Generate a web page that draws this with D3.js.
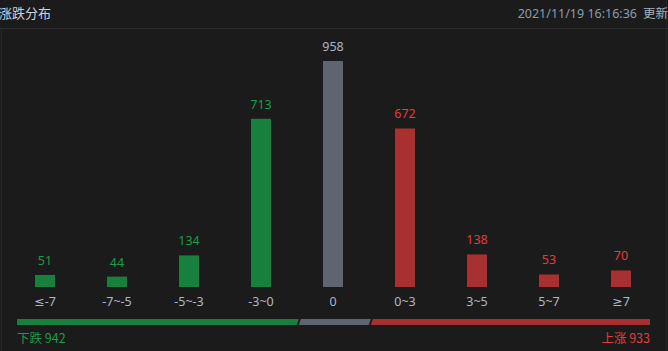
<!DOCTYPE html>
<html>
<head>
<meta charset="utf-8">
<script src="https://cdn.jsdelivr.net/npm/d3@7"></script>
<style>
  body { margin: 0; background: #1b1b1b; }
  svg { display: block; font-family: "Noto Sans", "DejaVu Sans", "Noto Sans CJK SC", sans-serif; }
</style>
</head>
<body>
<div id="chart"></div>
<script>
const width = 668;
const height = 351;

// data
const categories = ["≤-7", "-7~-5", "-5~-3", "-3~0", "0", "0~3", "3~5", "5~7", "≥7"];
const counts = [51, 44, 134, 713, 958, 672, 138, 53, 70];
const kinds = ["down", "down", "down", "down", "flat", "up", "up", "up", "up"];
const downTotal = 942;
const upTotal = 933;
const flatTotal = 958;

const barColor = { down: "#16803c", flat: "#5e6470", up: "#a93030" };
const labelColor = { down: "#1a9c48", flat: "#a9b6c8", up: "#e23c3c" };

const svg = d3.select("#chart")
    .append("svg")
    .attr("width", width)
    .attr("height", height);

// header + panel frame
svg.append("rect")
    .attr("x", 0).attr("y", 0)
    .attr("width", width).attr("height", height)
    .attr("fill", "#1b1b1b");
svg.append("line")
    .attr("x1", 0).attr("x2", width)
    .attr("y1", 28.5).attr("y2", 28.5)
    .attr("stroke", "#2c2c2c");
svg.append("line")
    .attr("x1", 1.5).attr("x2", 1.5)
    .attr("y1", 29).attr("y2", height)
    .attr("stroke", "#262626");
svg.append("line")
    .attr("x1", width - 1.5).attr("x2", width - 1.5)
    .attr("y1", 0).attr("y2", height)
    .attr("stroke", "#262626");

svg.append("text")
    .attr("x", -1)
    .attr("y", 18)
    .style("font-size", "13px")
    .style("font-family", "\"Noto Sans CJK SC\", sans-serif")
    .style("fill", "#c9d3e3")
    .text("涨跌分布");

svg.append("text")
    .attr("x", 637)
    .attr("y", 18)
    .attr("text-anchor", "end")
    .style("font-size", "12.5px")
    .style("fill", "#8a9bb0")
    .text("2021/11/19 16:16:36");
svg.append("text")
    .attr("x", 643)
    .attr("y", 18)
    .style("font-size", "12.5px")
    .style("font-family", "\"Noto Sans CJK SC\", sans-serif")
    .style("fill", "#a9b2be")
    .text("更新");

// scales
const x = d3.scaleBand()
    .domain(categories)
    .range([9, 657])
    .paddingInner(0.7222)
    .paddingOuter(0.3611);

const y = d3.scaleLinear()
    .domain([0, 958])
    .range([287, 61]);

const data = categories.map((c, i) => ({ cat: c, value: counts[i], kind: kinds[i] }));

svg.selectAll(".bar")
    .data(data)
    .join("rect")
    .attr("class", "bar")
    .attr("x", d => x(d.cat))
    .attr("width", x.bandwidth())
    .attr("y", d => y(d.value))
    .attr("height", d => y(0) - y(d.value))
    .attr("fill", d => barColor[d.kind]);

svg.selectAll(".val")
    .data(data)
    .join("text")
    .attr("class", "val")
    .attr("x", d => x(d.cat) + x.bandwidth() / 2)
    .attr("y", d => y(d.value) - 10)
    .attr("text-anchor", "middle")
    .style("font-size", "12.5px")
    .style("fill", d => labelColor[d.kind])
    .text(d => d.value);

const xAxis = svg.append("g")
    .attr("transform", "translate(0,287)")
    .call(d3.axisBottom(x).tickSize(0).tickPadding(10));
xAxis.select(".domain").remove();
xAxis.selectAll("text")
    .attr("dy", "0.71em")
    .style("font-size", "12.5px")
    .style("font-family", "\"Noto Sans\", \"DejaVu Sans\", sans-serif")
    .style("fill", "#a9b8cc");

// ratio gauge
const gaugeLeft = 17, gaugeRight = 650, gaugeY = 319, gaugeH = 6, gap = 2, slant = 2;
const flatShare = 70; // fixed slot for flat stocks
const g = d3.scaleLinear()
    .domain([0, downTotal + upTotal])
    .range([0, gaugeRight - gaugeLeft - flatShare - 2 * gap]);

const downEnd = gaugeLeft + g(downTotal);
const flatStart = downEnd + gap;
const flatEnd = flatStart + flatShare;
const upStart = flatEnd + gap;
const h = slant / 2;

const gauge = svg.append("g");
gauge.append("path")
    .attr("d", `M${gaugeLeft},${gaugeY}H${downEnd + h}L${downEnd - h},${gaugeY + gaugeH}H${gaugeLeft}Z`)
    .attr("fill", barColor.down);
gauge.append("path")
    .attr("d", `M${flatStart + h},${gaugeY}H${flatEnd + h}L${flatEnd - h},${gaugeY + gaugeH}H${flatStart - h}Z`)
    .attr("fill", barColor.flat);
gauge.append("path")
    .attr("d", `M${upStart + h},${gaugeY}H${gaugeRight}V${gaugeY + gaugeH}H${upStart - h}Z`)
    .attr("fill", barColor.up);

svg.append("text")
    .attr("x", gaugeLeft)
    .attr("y", 343)
    .style("font-size", "12.5px")
    .style("font-family", "\"Noto Sans CJK SC\", sans-serif")
    .style("fill", labelColor.down)
    .text("下跌 " + downTotal);
svg.append("text")
    .attr("x", gaugeRight)
    .attr("y", 343)
    .attr("text-anchor", "end")
    .style("font-size", "12.5px")
    .style("font-family", "\"Noto Sans CJK SC\", sans-serif")
    .style("fill", labelColor.up)
    .text("上涨 " + upTotal);
</script>
</body>
</html>
